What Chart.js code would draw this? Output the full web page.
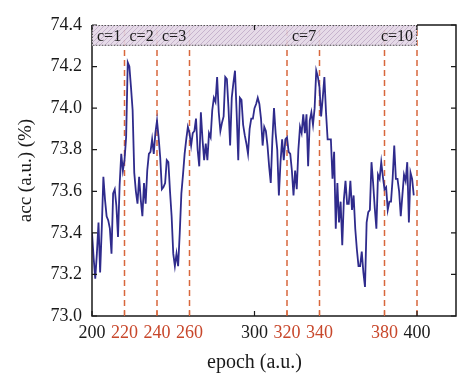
<!DOCTYPE html>
<html>
<head>
<meta charset="utf-8">
<script src="https://cdn.jsdelivr.net/npm/chart.js@4/dist/chart.umd.min.js"></script>
<style>
  html, body { margin: 0; padding: 0; background: #fff; }
  #wrap { width: 474px; height: 391px; }
</style>
</head>
<body>
<div id="wrap"><canvas id="accChart" width="474" height="391"></canvas></div>
<script>
const FONT = "'Liberation Serif', 'DejaVu Serif', serif";

// accuracy per epoch, starting at epoch 200
const startEpoch = 200;
const accValues = [
    73.40, 73.28, 73.18, 73.30, 73.45, 73.21, 73.42, 73.67, 73.56, 73.48,
    73.46, 73.42, 73.30, 73.59, 73.61, 73.53, 73.38, 73.63, 73.78, 73.70,
    73.75, 73.86, 74.22, 74.20, 74.10, 73.99, 73.69, 73.60, 73.54, 73.67,
    73.56, 73.48, 73.64, 73.54, 73.70, 73.78, 73.79, 73.85, 73.78, 73.88,
    73.94, 73.86, 73.76, 73.61, 73.62, 73.64, 73.75, 73.74, 73.60, 73.48,
    73.30, 73.24, 73.30, 73.24, 73.40, 73.59, 73.68, 73.78, 73.85, 73.91,
    73.88, 73.82, 73.88, 73.89, 73.95, 73.80, 73.72, 73.98, 73.85, 73.75,
    73.83, 73.75, 73.88, 73.86, 73.99, 74.05, 74.03, 74.15, 73.98, 73.89,
    73.93, 73.96, 74.15, 74.14, 74.00, 73.82, 74.05, 74.12, 74.18, 73.98,
    73.75, 74.05, 74.04, 73.92, 73.87, 73.83, 73.78, 73.90, 73.95, 73.95,
    74.00, 74.02, 74.05, 74.02, 73.95, 73.82, 73.91, 73.89, 73.82, 73.72,
    73.64, 73.85, 74.00, 73.88, 73.80, 73.58, 73.74, 73.85, 73.75, 73.85,
    73.86, 73.79, 73.78, 73.70, 73.58, 73.70, 73.61, 73.80, 73.91, 73.88,
    73.97, 73.88, 73.97, 73.72, 73.94, 73.98, 73.92, 74.00, 74.18, 74.15,
    74.10, 73.96, 74.05, 74.15, 73.98, 73.85, 73.85, 73.85, 73.66, 73.79,
    73.42, 73.64, 73.45, 73.55, 73.34, 73.56, 73.65, 73.54, 73.54, 73.65,
    73.51, 73.58, 73.42, 73.32, 73.24, 73.24, 73.31, 73.21, 73.14, 73.45,
    73.50, 73.51, 73.74, 73.64, 73.52, 73.42, 73.68, 73.66, 73.74, 73.67,
    73.61, 73.62, 73.51, 73.55, 73.55, 73.66, 73.82, 73.66, 73.66, 73.60,
    73.48, 73.58, 73.68, 73.65, 73.74, 73.45, 73.69, 73.66, 73.58
];
const epochs = accValues.map((v, i) => startEpoch + i);

// boundaries (dashed) and the band labels
const boundaryEpochs = [220, 240, 260, 320, 340, 380, 400];
const bandLabelEpochs = [200, 220, 240, 320, 380];
const bandLabels = ['c=1', 'c=2', 'c=3', 'c=7', 'c=10'];
const bandEpochs = [200, 400];
const bandAcc = [74.3, 74.4];

// ticks
const xTickValues = [200, 220, 240, 260, 300, 320, 340, 380, 400];
const redTickValues = [220, 240, 260, 320, 340, 380];
const topTickValues = [200, 300, 400];
const yTickValues = [73.0, 73.2, 73.4, 73.6, 73.8, 74.0, 74.2, 74.4];
const xRange = [200, 424];
const yRange = [73.0, 74.4];
const xTitle = 'epoch (a.u.)';
const yTitle = 'acc (a.u.) (%)';

const RED = '#d8673c';
const RED_TEXT = '#c8472b';
const INK = '#1a1a1a';

// hatch fill for the top band
function makeHatch(ctx) {
    const c = document.createElement('canvas');
    c.width = 5; c.height = 5;
    const g = c.getContext('2d');
    g.fillStyle = '#e4d8e6';
    g.fillRect(0, 0, 5, 5);
    g.strokeStyle = '#bba6c4';
    g.lineWidth = 0.9;
    g.beginPath();
    g.moveTo(0, 5); g.lineTo(5, 0);
    g.moveTo(-1, 1); g.lineTo(1, -1);
    g.moveTo(4, 6); g.lineTo(6, 4);
    g.stroke();
    return ctx.createPattern(c, 'repeat');
}

const framePlugin = {
    id: 'frame',
    afterDatasetsDraw(chart) {
        const { ctx, chartArea: a, scales: { x, y } } = chart;
        ctx.save();

        // frame (top only right of band)
        ctx.strokeStyle = INK;
        ctx.lineWidth = 1.5;
        ctx.beginPath();
        ctx.moveTo(a.left, a.top);
        ctx.lineTo(a.left, a.bottom);
        ctx.lineTo(a.right, a.bottom);
        ctx.lineTo(a.right, a.top);
        ctx.lineTo(x.getPixelForValue(bandEpochs[1]), a.top);
        ctx.stroke();

        // inward ticks
        ctx.lineWidth = 1.2;
        yTickValues.forEach(v => {
            const py = y.getPixelForValue(v);
            ctx.strokeStyle = INK;
            ctx.beginPath();
            ctx.moveTo(a.left, py); ctx.lineTo(a.left + 5, py);
            ctx.moveTo(a.right, py); ctx.lineTo(a.right - 5, py);
            ctx.stroke();
        });
        xTickValues.forEach(v => {
            const px = x.getPixelForValue(v);
            ctx.strokeStyle = redTickValues.includes(v) ? RED : INK;
            ctx.beginPath();
            ctx.moveTo(px, a.bottom); ctx.lineTo(px, a.bottom - 5);
            ctx.stroke();
        });

        // band
        const bx0 = x.getPixelForValue(bandEpochs[0]);
        const bx1 = x.getPixelForValue(bandEpochs[1]);
        const by0 = y.getPixelForValue(bandAcc[1]);
        const by1 = y.getPixelForValue(bandAcc[0]);
        ctx.globalAlpha = 0.9;
        ctx.fillStyle = makeHatch(ctx);
        ctx.fillRect(bx0, by0, bx1 - bx0, by1 - by0);
        ctx.globalAlpha = 1;
        ctx.setLineDash([1.5, 1.5]);
        ctx.strokeStyle = '#555';
        ctx.lineWidth = 1;
        ctx.strokeRect(bx0 + 0.5, by0 + 0.5, bx1 - bx0 - 1, by1 - by0 - 1);
        ctx.setLineDash([]);

        // top ticks
        ctx.strokeStyle = INK;
        ctx.lineWidth = 1.2;
        topTickValues.forEach(v => {
            const px = x.getPixelForValue(v);
            ctx.beginPath();
            ctx.moveTo(px, a.top); ctx.lineTo(px, a.top + 5);
            ctx.stroke();
        });

        // band labels
        ctx.font = `16px ${FONT}`;
        ctx.fillStyle = INK;
        ctx.textBaseline = 'middle';
        ctx.textAlign = 'left';
        const midY = (by0 + by1) / 2 + 1;
        bandLabels.forEach((t, i) => {
            const w = ctx.measureText(t).width;
            const lx = Math.min(x.getPixelForValue(bandLabelEpochs[i]) + 5, bx1 - w - 4);
            ctx.fillText(t, lx, midY);
        });

        // x title, centred on the 200-400 span
        ctx.font = `20px ${FONT}`;
        ctx.textAlign = 'center';
        ctx.fillText(xTitle, x.getPixelForValue((bandEpochs[0] + bandEpochs[1]) / 2), 363);
        ctx.restore();
    }
};

const datasets = [
    {
        data: epochs.map((e, i) => ({ x: e, y: accValues[i] })),
        borderColor: '#2f2b8c',
        borderWidth: 1.8,
        pointRadius: 0,
        tension: 0,
        order: 0
    },
    ...boundaryEpochs.map(e => ({
        data: [{ x: e, y: yRange[0] }, { x: e, y: yRange[1] }],
        borderColor: RED,
        borderWidth: 1.5,
        borderDash: [6, 4],
        pointRadius: 0,
        order: 1
    }))
];

new Chart(document.getElementById('accChart'), {
    type: 'line',
    data: { datasets },
    options: {
        responsive: false,
        devicePixelRatio: 1,
        animation: false,
        layout: { padding: { left: 0, right: 18, top: 25, bottom: 0 } },
        plugins: { legend: { display: false }, tooltip: { enabled: false } },
        scales: {
            x: {
                type: 'linear',
                min: xRange[0],
                max: xRange[1],
                grid: { display: false, drawTicks: false },
                border: { display: false },
                afterBuildTicks: s => { s.ticks = xTickValues.map(v => ({ value: v })); },
                afterFit: s => { s.height = 75; },
                ticks: {
                    autoSkip: false,
                    maxRotation: 0,
                    padding: 6,
                    font: { family: FONT, size: 18 },
                    color: c => redTickValues.includes(c.tick.value) ? RED_TEXT : INK
                }
            },
            y: {
                min: yRange[0],
                max: yRange[1],
                grid: { display: false, drawTicks: false },
                border: { display: false },
                afterBuildTicks: s => { s.ticks = yTickValues.map(v => ({ value: v })); },
                afterFit: s => { s.width = 92; },
                ticks: {
                    padding: 10,
                    font: { family: FONT, size: 18 },
                    color: INK,
                    callback: v => v.toFixed(1)
                },
                title: {
                    display: true,
                    text: yTitle,
                    color: INK,
                    font: { family: FONT, size: 19 },
                    padding: { top: 15, bottom: 0 }
                }
            }
        }
    },
    plugins: [framePlugin]
});
</script>
</body>
</html>
